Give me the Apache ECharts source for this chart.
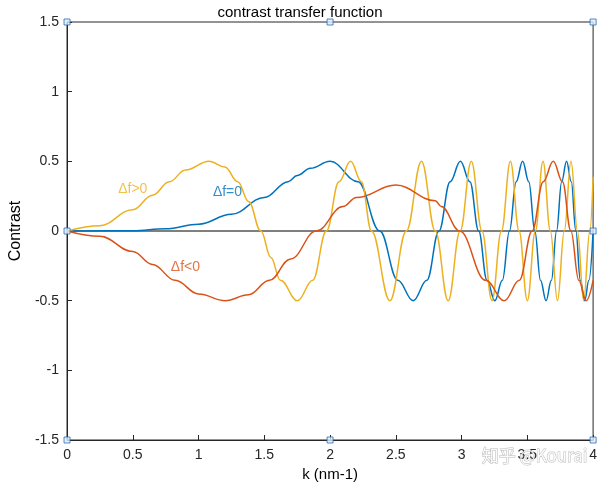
<!DOCTYPE html>
<html><head><meta charset="utf-8">
<script src="https://cdn.jsdelivr.net/npm/echarts@6/dist/echarts.min.js"></script>
<style>html,body{margin:0;background:#fff}#c{width:600px;height:493px}</style>
</head><body><div id="c"></div>
<script>
const xTicks=[0,0.5,1,1.5,2,2.5,3,3.5,4];
const yTicks=[-1.5,-1,-0.5,0,0.5,1,1.5];
const blueData=[[0,0],[0.5,0.002],[0.75,0.016],[1,0.049],[1.25,0.12],[1.5,0.24],[1.682,0.354],[1.75,0.398],[1.85,0.45],[2,0.5],[2.213,0.354],[2.378,0],[2.515,-0.354],[2.632,-0.5],[2.736,-0.354],[2.828,0],[2.913,0.354],[2.991,0.5],[3.063,0.354],[3.13,0],[3.193,-0.354],[3.253,-0.5],[3.31,-0.354],[3.364,0],[3.415,0.354],[3.464,0.5],[3.511,0.354],[3.557,0],[3.6,-0.354],[3.642,-0.5],[3.683,-0.354],[3.722,0],[3.761,0.354],[3.798,0.5],[3.834,0.354],[3.869,0],[3.903,-0.354],[3.936,-0.5],[3.968,-0.354],[4,0]];
const yellowData=[[0,0],[0.25,0.038],[0.5,0.153],[0.65,0.257],[0.778,0.354],[0.9,0.437],[1.08,0.5],[1.2,0.459],[1.298,0.354],[1.38,0.212],[1.474,0],[1.55,-0.19],[1.622,-0.354],[1.752,-0.5],[1.868,-0.354],[1.972,0],[2.068,0.354],[2.156,0.5],[2.238,0.354],[2.315,0],[2.455,-0.5],[2.58,0],[2.695,0.5],[2.8,0],[2.898,-0.5],[2.989,0],[3.074,0.5],[3.155,0],[3.231,-0.5],[3.303,0],[3.371,0.5],[3.437,0],[3.5,-0.5],[3.561,0],[3.619,0.5],[3.675,0],[3.729,-0.5],[3.781,0],[3.832,0.5],[3.881,0],[3.928,-0.5],[3.975,0],[4,0.39]];
const redData=[[0,0],[0.25,-0.038],[0.5,-0.148],[0.65,-0.24],[0.822,-0.354],[1,-0.452],[1.203,-0.5],[1.38,-0.458],[1.539,-0.354],[1.7,-0.201],[1.895,0],[2.098,0.175],[2.2,0.24],[2.5,0.33],[2.8,0.217],[2.846,0.175],[2.985,0],[3.183,-0.354],[3.325,-0.5],[3.439,-0.354],[3.536,0],[3.621,0.354],[3.697,0.5],[3.767,0.354],[3.831,0],[3.891,-0.354],[3.947,-0.5],[4,-0.354]];
const handles=[[0,1.5],[2,1.5],[4,1.5],[0,0],[4,0],[0,-1.5],[2,-1.5],[4,-1.5]];
const labels=[{t:'Δf>0',x:0.5,y:0.3,c:'#EDB120'},{t:'Δf=0',x:1.22,y:0.28,c:'#0072BD'},{t:'Δf<0',x:0.9,y:-0.26,c:'#D95319'}];
const ch=echarts.init(document.getElementById('c'));
const line=(d,c)=>({type:'line',data:d,smooth:0.4,smoothMonotone:'x',showSymbol:false,lineStyle:{color:c,width:1.5},z:3});
ch.setOption({
 animation:false,
 title:{text:'contrast transfer function',left:'center',top:0,textStyle:{fontFamily:'Arial',fontWeight:'normal',fontSize:15,color:'#000'}},
 grid:{left:62,right:6,top:22,bottom:53,show:true,borderColor:'#262626',borderWidth:1},
 xAxis:{type:'value',min:0,max:4,interval:0.5,name:'k (nm-1)',nameLocation:'middle',nameGap:26,
  nameTextStyle:{fontSize:15,color:'#000',fontFamily:'Arial'},
  axisLabel:{fontSize:14,color:'#262626',fontFamily:'Arial',formatter:v=>xTicks.includes(v)?String(v):''},
  axisTick:{inside:true,length:5,lineStyle:{color:'#262626'}},axisLine:{onZero:false,lineStyle:{color:'#262626'}},splitLine:{show:false}},
 yAxis:{type:'value',min:-1.5,max:1.5,interval:0.5,name:'Contrast',nameLocation:'middle',nameGap:40,
  nameTextStyle:{fontSize:16,color:'#000',fontFamily:'Arial'},
  axisLabel:{fontSize:14,color:'#262626',fontFamily:'Arial',formatter:v=>yTicks.includes(v)?String(v):''},
  axisTick:{inside:true,length:5,lineStyle:{color:'#262626'}},axisLine:{onZero:false,lineStyle:{color:'#262626'}},splitLine:{show:false}},
 series:[
  {type:'line',data:[[0,0],[4,0]],showSymbol:false,lineStyle:{color:'#000',width:1},z:2},
  line(blueData,'#0072BD'),line(yellowData,'#EDB120'),line(redData,'#D95319'),
  {type:'scatter',data:handles,symbol:'rect',symbolSize:6,itemStyle:{color:'#ddeeff',borderColor:'#2a6bb5',borderWidth:1},z:5},
  {type:'scatter',data:labels.map(l=>({value:[l.x,l.y],label:{show:true,formatter:l.t,color:l.c,fontSize:14,fontFamily:'Arial',position:'inside'}})),symbolSize:0,z:6}
 ],
 graphic:[{type:'text',right:12,bottom:28,style:{text:'知乎 @Kourai',fill:'rgba(255,255,255,0.9)',stroke:'rgba(120,120,120,0.5)',lineWidth:1,fontSize:17,fontFamily:'Noto Sans CJK SC'},z:10}]
});
</script></body></html>
